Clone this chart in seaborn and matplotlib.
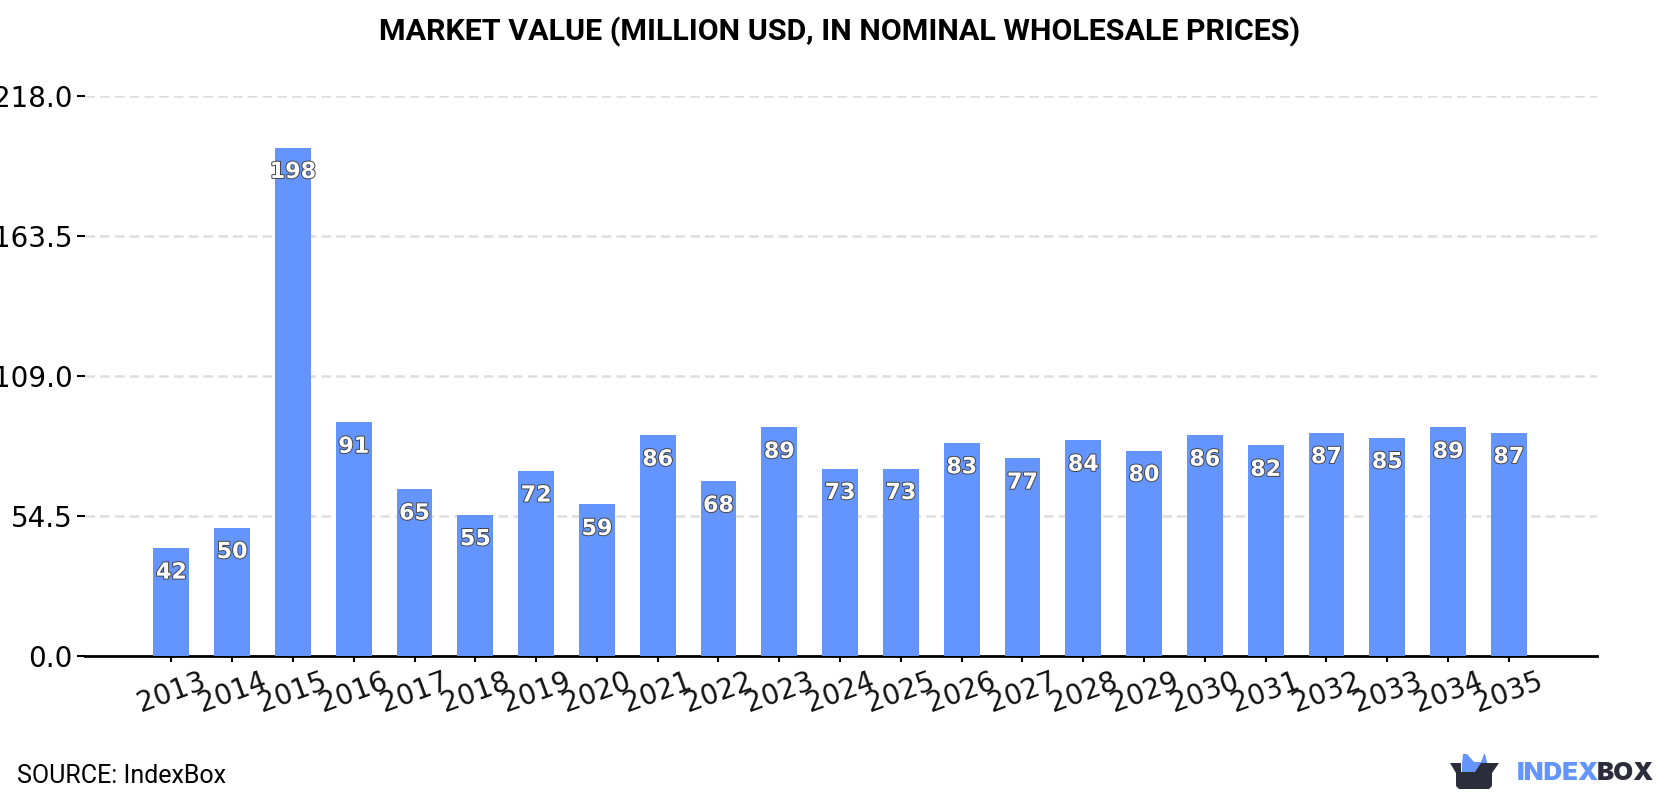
import matplotlib
matplotlib.use("Agg")
import matplotlib.pyplot as plt
import matplotlib.patheffects as pe
from matplotlib.patches import Polygon
import pandas as pd
import seaborn as sns

years = [str(y) for y in range(2013, 2036)]
values = [42, 50, 198, 91, 65, 55, 72, 59, 86, 68, 89, 73, 73, 83, 77, 84, 80, 86, 82, 87, 85, 89, 87]
y_ticks = [0.0, 54.5, 109.0, 163.5, 218.0]
title = "MARKET VALUE (MILLION USD, IN NOMINAL WHOLESALE PRICES)"
source = "SOURCE: IndexBox"

BLUE = "#6495FF"
DARK = "#2B2D3A"

sns.set_theme(style="white")
W, H = 1680, 800
fig = plt.figure(figsize=(W / 100, H / 100), dpi=100, facecolor="white")
ax = fig.add_axes([85 / W, 1 - 656 / H, (1597 - 85) / W, (656 - 96.2) / H])

df = pd.DataFrame({"year": years, "value": values})
sns.barplot(data=df, x="year", y="value", color=BLUE, saturation=1, width=0.59,
            edgecolor="none", linewidth=0, ax=ax, zorder=3)

ax.set_xlim(-1.42, 23.45)
ax.set_ylim(0, 218)
ax.set_yticks(y_ticks, [f"{t:.1f}" for t in y_ticks])
ax.set_xlabel("")
ax.set_ylabel("")
ax.yaxis.grid(True, color="#DEDEDE", linestyle=(0, (3.8, 2.1)), linewidth=1.8)
ax.xaxis.grid(False)
ax.set_axisbelow(True)
sns.despine(ax=ax, left=True, top=True, right=True)
ax.spines["bottom"].set_color("black")
ax.spines["bottom"].set_linewidth(2)
ax.tick_params(axis="y", length=5.8, width=1.5, color="black", labelsize=20, labelcolor="black", pad=3, left=True)
ax.tick_params(axis="x", length=4.5, width=1.5, color="black", labelsize=20, labelcolor="#111111", pad=3.5, bottom=True)
plt.setp(ax.get_xticklabels(), rotation=20, ha="center", rotation_mode="default")

# Value labels sit just inside the top of each bar
for bar, v in zip(ax.patches, values):
    ax.annotate(
        str(v),
        (bar.get_x() + bar.get_width() / 2, v),
        xytext=(0, -17.6),
        textcoords="offset points",
        ha="center",
        va="center",
        fontsize=16,
        fontweight="bold",
        color="white",
        family="DejaVu Sans",
        path_effects=[pe.withStroke(linewidth=1.4, foreground="#444444")],
        zorder=5,
    )

fig.text(0.5 * (378 + 1302) / W, 1 - 32 / H, title, ha="center", va="center",
         family="Roboto", fontweight="bold", fontsize=21.9, color="black")
fig.text(17 / W, 1 - 776 / H, source, ha="left", va="center", family="Roboto", fontsize=18, color="black")

# IndexBox wordmark and box emblem, placed in pixel units of the figure
def px(points):
    return [(x / W, 1 - y / H) for x, y in points]

fig.add_artist(Polygon(px([(1462, 764), (1463, 754), (1467, 754), (1474, 762), (1481, 762), (1484, 754), (1485, 754), (1487, 762), (1487, 772), (1474, 772), (1462, 772)]),
                       closed=True, facecolor=BLUE, edgecolor="none", transform=fig.transFigure))
fig.add_artist(Polygon(px([(1450, 763), (1461, 763), (1461, 772), (1475, 772), (1481, 763), (1499, 763), (1492, 773), (1492, 786), (1489, 789), (1459, 789), (1456, 786), (1456, 773)]),
                       closed=True, facecolor=DARK, edgecolor="none", transform=fig.transFigure))
fig.text(1517 / W, 1 - 774 / H, "INDEX", ha="left", va="center", family="Inter", fontweight="black", fontsize=18.5, color=BLUE)
fig.text(1597 / W, 1 - 774 / H, "BOX", ha="left", va="center", family="Inter", fontweight="black", fontsize=18.5, color=DARK)

fig.savefig("out.png", dpi=100, facecolor="white")
